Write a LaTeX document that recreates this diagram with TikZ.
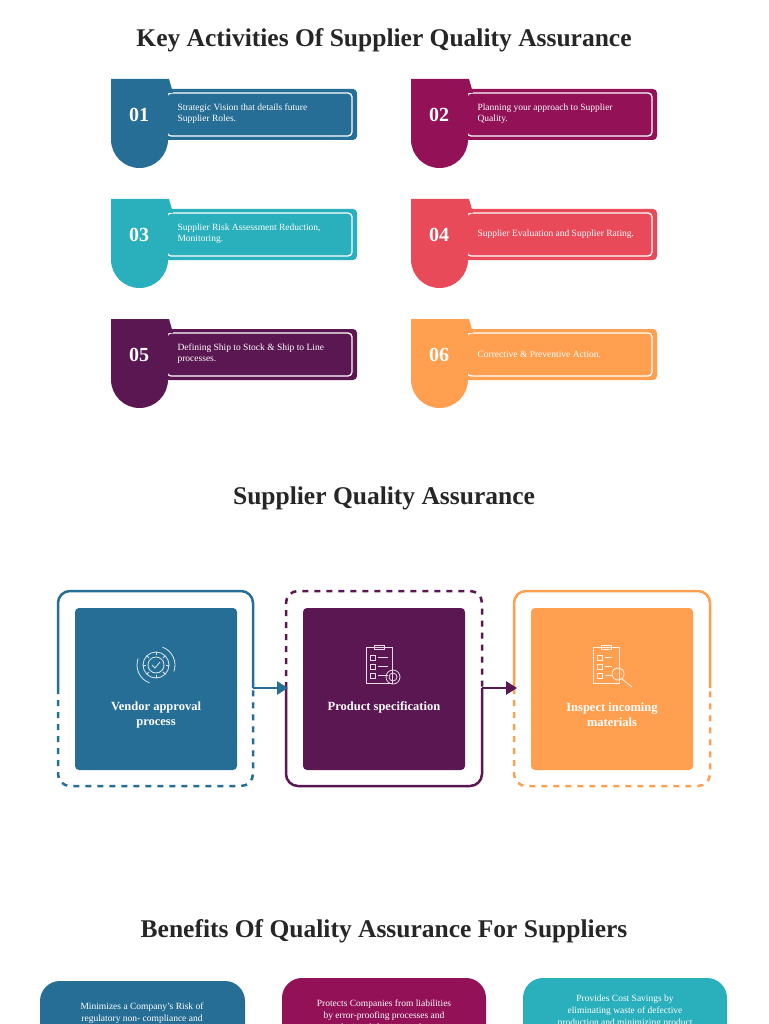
\documentclass[tikz,border=0pt]{standalone}
\usepackage{fontspec}
\setmainfont{Liberation Serif}
\usetikzlibrary{arrows.meta}
\begin{document}
\begin{tikzpicture}[x=1pt,y=-1pt,
  title/.style={font=\fontsize{25.5}{30}\selectfont\bfseries,text=black!85},
  num/.style={font=\fontsize{20}{22}\selectfont\bfseries,text=white},
  small/.style={font=\fontsize{9.5}{11}\selectfont,text=white,align=left,anchor=west},
  boxtxt/.style={font=\fontsize{12.5}{15}\selectfont\bfseries,text=white,align=center},
  bentxt/.style={font=\fontsize{9.5}{12}\selectfont,text=white,align=center,anchor=north}]
\definecolor{cA}{HTML}{266E95}\definecolor{cB}{HTML}{921157}\definecolor{cC}{HTML}{2AAFBC}
\definecolor{cD}{HTML}{E84A5A}\definecolor{cE}{HTML}{5B1751}\definecolor{cF}{HTML}{FF9F4F}
\useasboundingbox (0,0) rectangle (768,1024);
\clip (0,0) rectangle (768,1024);
\fill[white] (0,0) rectangle (768,1024);
\node[title] (t1) at (384,40) {Key Activities Of Supplier Quality Assurance};
\newcommand\card[6]{% x y color num text name
 \begin{scope}[shift={(#1,#2)}]
  \fill[#3,rounded corners=4] (50,10) rectangle (246,61);
  \draw[white,line width=1.3,rounded corners=4] (56,14) rectangle (241,57);
  \fill[#3] (0,0) -- (58,0) -- (62,14) -- (57,14) -- (57,60.5) arc (0:180:28.5) -- cycle;
  \node[num] (#6n) at (28,36) {#4};
  \node[small] (#6t) at (63,35) {#5};
 \end{scope}}
\card{111}{79}{cA}{01}{Strategic Vision that details future\\Supplier Roles.}{a}
\card{411}{79}{cB}{02}{Planning your approach to Supplier\\Quality.}{b}
\card{111}{199}{cC}{03}{Supplier Risk Assessment Reduction,\\Monitoring.}{c}
\card{411}{199}{cD}{04}{Supplier Evaluation and Supplier Rating.}{d}
\card{111}{319}{cE}{05}{Defining Ship to Stock \& Ship to Line\\processes.}{e}
\card{411}{319}{cF}{06}{Corrective \& Preventive Action.}{f}
\node[title] (t2) at (384,498) {Supplier Quality Assurance};
% frames
\tikzset{fr/.style={line width=2.5,rounded corners=12},dsh/.style={fr,dash pattern=on 6pt off 6pt}}
\draw[cA,fr] (58,688) -- (58,591) -- (253,591) -- (253,688);
\draw[cA,dsh] (58,688) -- (58,786) -- (253,786) -- (253,688);
\draw[cE,dsh] (286,688) -- (286,591) -- (482,591) -- (482,688);
\draw[cE,fr] (286,688) -- (286,786) -- (482,786) -- (482,688);
\draw[cF,fr] (514,688) -- (514,591) -- (710,591) -- (710,688);
\draw[cF,dsh] (514,688) -- (514,786) -- (710,786) -- (710,688);
\fill[cA,rounded corners=4] (75,608) rectangle (237,770);
\fill[cE,rounded corners=4] (303,608) rectangle (465,770);
\fill[cF,rounded corners=4] (531,608) rectangle (693,770);
\coordinate (p1) at (253,688); \coordinate (p2) at (288,688);
\coordinate (p3) at (482,688); \coordinate (p4) at (517,688);
\draw[cA,line width=2.5,-{Triangle[length=11,width=13]}] (p1) -- (p2);
\draw[cE,line width=2.5,-{Triangle[length=11,width=13]}] (p3) -- (p4);
\node[boxtxt] (v) at (156,715) {Vendor approval\\process};
\node[boxtxt] (ps) at (384,707) {Product specification};
\node[boxtxt] (ii) at (612,715) {Inspect incoming\\materials};
% icons
\begin{scope}[white!85!cA,line width=0.8]
 \draw (156,665) circle (8); \draw (156,665) circle (13);
 \foreach \a in {0,45,...,315} \draw (156,665) ++(\a:10) -- ++(\a:3);
 \draw (152,665) -- (155,668) -- (160,662);
 \draw (156,665) ++(110:19) arc (110:200:19); \draw (156,665) ++(-70:19) arc (-70:20:19);
\end{scope}
\begin{scope}[white!85!cE,line width=0.8]
 \draw (366,647) rectangle (392,683); \draw (374,645) rectangle (384,649);
 \foreach \yy in {655,664,673}{\draw (370,\yy) rectangle (375,\yy+5); \draw (378,\yy+2.5) -- (388,\yy+2.5);}
 \draw (393,677) circle (4); \draw (393,677) circle (7);
\end{scope}
\begin{scope}[white!85!cF,line width=0.8]
 \draw (593,647) rectangle (619,683); \draw (601,645) rectangle (611,649);
 \foreach \yy in {655,664,673}{\draw (597,\yy) rectangle (602,\yy+5); \draw (605,\yy+2.5) -- (612,\yy+2.5);}
 \draw (618,674) circle (6); \draw (622,679) -- (632,687);
\end{scope}
\node[title] (t3) at (384,931) {Benefits Of Quality Assurance For Suppliers};
\fill[cA,rounded corners=20] (40,981) rectangle (245,1060);
\fill[cB,rounded corners=20] (282,978) rectangle (486,1060);
\fill[cC,rounded corners=20] (523,978) rectangle (727,1060);
\node[bentxt] (b1) at (142,999) {Minimizes a Company's Risk of\\regulatory non- compliance and\\penalties};
\node[bentxt] (b2) at (384,996) {Protects Companies from liabilities\\by error-proofing processes and\\reducing defective products};
\node[bentxt] (b3) at (625,991) {Provides Cost Savings by\\eliminating waste of defective\\production and minimizing product\\recalls};
\end{tikzpicture}
\end{document}
